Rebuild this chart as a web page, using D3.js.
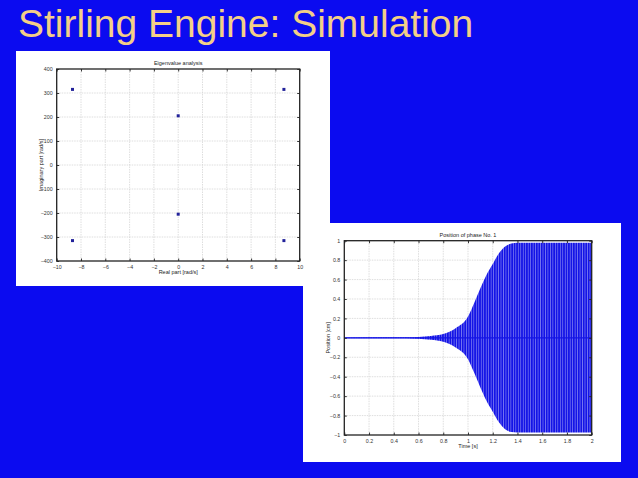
<!DOCTYPE html>
<html><head><meta charset="utf-8">
<script src="https://cdn.jsdelivr.net/npm/d3@7"></script>
<style>body{margin:0;background:#0b0bf0;}svg{display:block}</style>
</head><body>
<script>
// ---- data ----
const slideTitle = "Stirling Engine: Simulation";
// Eigenvalue chart
const eigTitle = "Eigenvalue analysis";
const eigReal = [-8.7, -8.7, 0, 0, 8.7, 8.7];
const eigImag = [315, -315, 205, -205, 315, -315];
const eigXTicks = [-10, -8, -6, -4, -2, 0, 2, 4, 6, 8, 10];
const eigYTicks = [-400, -300, -200, -100, 0, 100, 200, 300, 400];
const eigXLabel = "Real part [rad/s]";
const eigYLabel = "Imaginary part [rad/s]";
// Position chart (envelope of the oscillation)
const posTitle = "Position of phase No. 1";
const envTime = [0, 0.5, 0.6, 0.7, 0.8, 0.9, 1.0, 1.05, 1.1, 1.15, 1.2, 1.25, 1.3, 1.35, 1.4, 1.5, 2.0];
const envUpper = [0.004, 0.005, 0.01, 0.02, 0.04, 0.1, 0.22, 0.36, 0.51, 0.65, 0.76, 0.87, 0.94, 0.97, 0.98, 0.98, 0.98];
const envLower = [-0.004, -0.005, -0.01, -0.02, -0.04, -0.1, -0.22, -0.36, -0.51, -0.65, -0.76, -0.87, -0.94, -0.97, -0.975, -0.975, -0.975];
const posXTicks = [0, 0.2, 0.4, 0.6, 0.8, 1, 1.2, 1.4, 1.6, 1.8, 2];
const posYTicks = [-1, -0.8, -0.6, -0.4, -0.2, 0, 0.2, 0.4, 0.6, 0.8, 1];
const posXLabel = "Time [s]";
const posYLabel = "Position [cm]";

const W = 638, H = 478;
const svg = d3.select("body").append("svg").attr("width", W).attr("height", H);
svg.append("rect").attr("width", W).attr("height", H).attr("fill", "#0b0bf0");

svg.append("text").attr("x", 18).attr("y", 37)
  .attr("font-family", "Liberation Sans, Arial, sans-serif").attr("font-size", 39)
  .attr("fill", "#f3cf88").text(slideTitle);

const defs = svg.append("defs");
const pat = defs.append("pattern").attr("id", "osc").attr("patternUnits", "userSpaceOnUse")
  .attr("width", 2.47).attr("height", 10);
pat.append("rect").attr("width", 2.47).attr("height", 10).attr("fill", "#1414e6");
pat.append("rect").attr("x", 1.7).attr("width", 0.6).attr("height", 10).attr("fill", "#9a9af5");

function fmt(v){ return (v < 0 ? "\u2212" : "") + String(Math.abs(Math.round(v*1000)/1000)); }

function frame(g, x, y, xt, yt){
  const [x0, x1] = x.range(), [y0, y1] = y.range();
  g.append("g").selectAll("line").data(xt.slice(1, -1)).join("line")
    .attr("x1", d => x(d)).attr("x2", d => x(d)).attr("y1", y1).attr("y2", y0)
    .attr("stroke", "#d6d6d6").attr("stroke-width", 0.8).attr("stroke-dasharray", "1.5,1");
  g.append("g").selectAll("line").data(yt.slice(1, -1)).join("line")
    .attr("y1", d => y(d)).attr("y2", d => y(d)).attr("x1", x0).attr("x2", x1)
    .attr("stroke", "#d6d6d6").attr("stroke-width", 0.8).attr("stroke-dasharray", "1.5,1");
}
function axes(g, x, y, xt, yt, texts){
  const [x0, x1] = x.range(), [y0, y1] = y.range();
  const style = s => {
    s.select(".domain").remove();
    s.selectAll(".tick line").attr("stroke", "#222").attr("stroke-width", 0.9);
    s.selectAll(".tick text").attr("font-family", "Liberation Sans, Arial, sans-serif")
      .attr("font-size", 5.3).attr("fill", "#333");
  };
  g.append("g").attr("transform", `translate(0,${y0})`)
    .call(d3.axisBottom(x).tickValues(xt).tickSize(-2.5).tickPadding(4).tickFormat(fmt)).call(style);
  g.append("g").attr("transform", `translate(0,${y1})`)
    .call(d3.axisTop(x).tickValues(xt).tickSize(-2.5).tickFormat("")).call(style);
  g.append("g").attr("transform", `translate(${x0},0)`)
    .call(d3.axisLeft(y).tickValues(yt).tickSize(-2.5).tickPadding(4).tickFormat(fmt)).call(style);
  g.append("g").attr("transform", `translate(${x1},0)`)
    .call(d3.axisRight(y).tickValues(yt).tickSize(-2.5).tickFormat("")).call(style);
  g.append("rect").attr("x", x0).attr("y", y1).attr("width", x1 - x0).attr("height", y0 - y1)
    .attr("fill", "none").attr("stroke", "#222").attr("stroke-width", 1.3);
  const f = "Liberation Sans, Arial, sans-serif";
  g.append("text").attr("x", (x0 + x1)/2).attr("y", y1 - 4).attr("text-anchor", "middle")
    .attr("font-family", f).attr("font-size", 5.5).attr("fill", "#222").text(texts[0]);
  g.append("text").attr("x", (x0 + x1)/2).attr("y", y0 + 13).attr("text-anchor", "middle")
    .attr("font-family", f).attr("font-size", 5.5).attr("fill", "#222").text(texts[1]);
  g.append("text").attr("transform", `translate(${x0 - 14},${(y0 + y1)/2}) rotate(-90)`)
    .attr("text-anchor", "middle")
    .attr("font-family", f).attr("font-size", 5.5).attr("fill", "#222").text(texts[2]);
}

// ---- right chart: position (drawn first, left chart overlaps it) ----
const g2 = svg.append("g");
g2.append("rect").attr("x", 303).attr("y", 223).attr("width", 318).attr("height", 239).attr("fill", "#ffffff");
const x2 = d3.scaleLinear().domain([0, 2]).range([344.3, 591.7]);
const y2 = d3.scaleLinear().domain([-1, 1]).range([435, 240.7]);
frame(g2, x2, y2, posXTicks, posYTicks);
const envData = envTime.map((t, i) => ({t, u: envUpper[i], l: envLower[i]}));
g2.append("path").datum(envData)
  .attr("d", d3.area().x(d => x2(d.t)).y0(d => y2(d.l)).y1(d => y2(d.u)).curve(d3.curveMonotoneX))
  .attr("fill", "url(#osc)");
g2.append("path").datum(envData)
  .attr("d", d3.line().x(d => x2(d.t)).y(d => y2(0)))
  .attr("stroke", "#1414e6").attr("stroke-width", 1.4).attr("fill", "none");
axes(g2, x2, y2, posXTicks, posYTicks, [posTitle, posXLabel, posYLabel]);

// ---- left chart: eigenvalues ----
const g1 = svg.append("g");
g1.append("rect").attr("x", 16).attr("y", 51).attr("width", 314).attr("height", 235).attr("fill", "#ffffff");
const x1s = d3.scaleLinear().domain([-10, 10]).range([56.7, 299.7]);
const y1s = d3.scaleLinear().domain([-400, 400]).range([261, 69]);
frame(g1, x1s, y1s, eigXTicks, eigYTicks);
axes(g1, x1s, y1s, eigXTicks, eigYTicks, [eigTitle, eigXLabel, eigYLabel]);
g1.append("g").selectAll("rect").data(eigReal.map((r, i) => [r, eigImag[i]])).join("rect")
  .attr("x", d => x1s(d[0]) - 1.5).attr("y", d => y1s(d[1]) - 1.5)
  .attr("width", 3).attr("height", 3).attr("fill", "#22229a");
</script>
</body></html>
